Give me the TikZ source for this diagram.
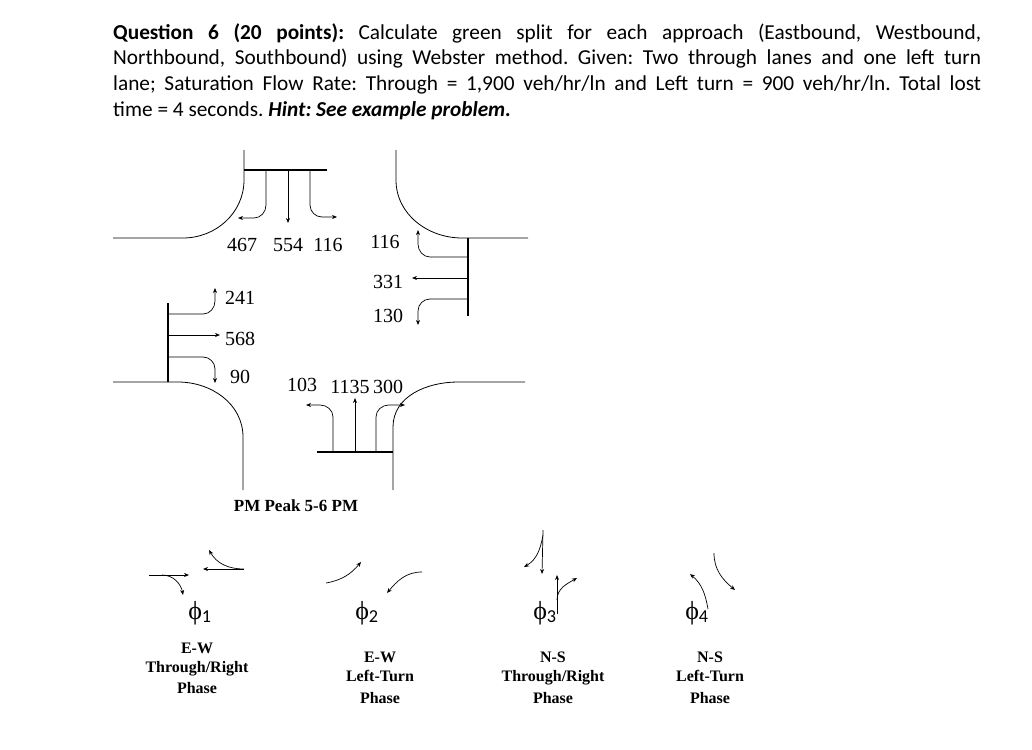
\documentclass[tikz,border=0pt]{standalone}
\usepackage{fontspec}
\setmainfont{Liberation Serif}
\newfontfamily\hdr{Carlito}
\usetikzlibrary{arrows.meta}
\begin{document}
\begin{tikzpicture}[x=1pt,y=-1pt,
  road/.style={line width=0.8pt},
  bar/.style={line width=2.2pt},
  mv/.style={line width=0.7pt,-{Stealth[length=5pt,width=4pt]}},
  num/.style={font=\fontsize{20}{20}\selectfont},
  ph/.style={font=\fontsize{16}{19}\selectfont\bfseries,align=center},
  phi/.style={font=\fontsize{26}{26}\selectfont}]
\useasboundingbox (0,0) rectangle (1032,749);
\node[anchor=north west,inner sep=0pt,text width=868pt,font=\hdr\fontsize{21.3}{25.8}\selectfont,align=justify] (hd) at (113,23)
{\frenchspacing\hyphenpenalty=10000\textbf{Question 6 (20 points):} Calculate green split for each approach (Eastbound, Westbound,\linebreak Northbound, Southbound) using Webster method. Given: Two through lanes and one left turn\linebreak lane; Saturation Flow Rate: Through = 1,900 veh/hr/ln and Left turn = 900 veh/hr/ln. Total lost\linebreak time = 4 seconds. \textbf{\textit{Hint: See example problem.}}\par};
% curbs
\draw[road] (244,150) -- (244,180) to[out=270,in=0] (183,238) -- (113,238);
\draw[road] (396,150) -- (396,180) to[out=270,in=180] (462,238) -- (528,238);
\draw[road] (113,382) -- (178,382) to[out=0,in=90] (243,437) -- (243,490);
\draw[road] (525,382) -- (458,382) to[out=180,in=90] (393,427) -- (393,490);
% stop bars
\draw[bar] (244,170) -- (327,170);
\draw[bar] (468,238) -- (468,316);
\draw[bar] (168,303) -- (168,382);
\draw[bar] (317,452) -- (393,452);
% south-bound movements (top)
\draw[mv] (266,170) -- (266,205) to[out=270,in=0] (254,218) -- (238,218);
\draw[mv] (288,170) -- (288,223);
\draw[mv] (310,170) -- (310,205) to[out=270,in=180] (322,217) -- (337,217);
\node[num] (n1) at (242,245) {467};
\node[num] (n2) at (288,245) {554};
\node[num] (n3) at (328,245) {116};
% west-bound (right)
\draw[mv] (468,257) -- (430,257) to[out=180,in=270] (418,244) -- (418,230);
\draw[mv] (468,278) -- (412,278);
\draw[mv] (468,299) -- (430,299) to[out=180,in=90] (418,311) -- (418,325);
\node[num] (n4) at (385,242) {116};
\node[num] (n5) at (388,282) {331};
\node[num] (n6) at (388,316) {130};
% east-bound (left)
\draw[mv] (168,314) -- (203,314) to[out=0,in=270] (215,301) -- (215,288);
\draw[mv] (168,335) -- (220,335);
\draw[mv] (168,357) -- (203,357) to[out=0,in=90] (215,369) -- (215,383);
\node[num] (n7) at (240,298) {241};
\node[num] (n8) at (240,339) {568};
\node[num] (n9) at (240,377) {90};
% north-bound (bottom)
\draw[mv] (333,452) -- (333,417) to[out=90,in=0] (320,405) -- (306,405);
\draw[mv] (355,452) -- (355,398);
\draw[mv] (376,452) -- (376,417) to[out=90,in=180] (389,405) -- (405,405);
\node[num] (n10) at (302,385) {103};
\node[num] (n11) at (350,387) {1135};
\node[num] (n12) at (388,387) {300};
\node[font=\fontsize{17}{17}\selectfont\bfseries] (pk) at (296,506) {PM Peak 5-6 PM};
% phase 1
\draw[mv] (149,575) -- (189,575);
\draw[mv] (162,575) to[out=0,in=100] (183,595);
\draw[mv] (244,569) -- (203,569);
\draw[mv] (244,569) to[out=180,in=-60] (209,550);
% phase 2
\draw[mv] (326,583) to[out=10,in=-130] (361,562);
\draw[mv] (422,572) to[out=180,in=50] (387,593);
% phase 3
\draw[mv] (543,530) -- (542,574);
\draw[mv] (543,535) to[out=260,in=30] (524,567);
\draw[mv] (557,614) -- (557,575);
\draw[mv] (557,600) to[out=90,in=-150] (577,578);
% phase 4
\draw[mv] (708,609) to[out=100,in=-40] (690,574);
\draw[mv] (714,553) to[out=270,in=140] (735,590);
% phi labels
\node[phi] (p1) at (200,613) {ϕ\textsubscript{\hdr 1}};
\node[phi] (p2) at (367,613) {ϕ\textsubscript{\hdr 2}};
\node[phi] (p3) at (545,613) {ϕ\textsubscript{\hdr 3}};
\node[phi] (p4) at (697,613) {ϕ\textsubscript{\hdr 4}};
\node[ph] (t1) at (197,668) {E-W\\Through/Right\\[2pt]Phase};
\node[ph] (t2) at (380,678) {E-W\\Left-Turn\\[3pt]Phase};
\node[ph] (t3) at (553,678) {N-S\\Through/Right\\[3pt]Phase};
\node[ph] (t4) at (710,678) {N-S\\Left-Turn\\[3pt]Phase};
\end{tikzpicture}
\end{document}
